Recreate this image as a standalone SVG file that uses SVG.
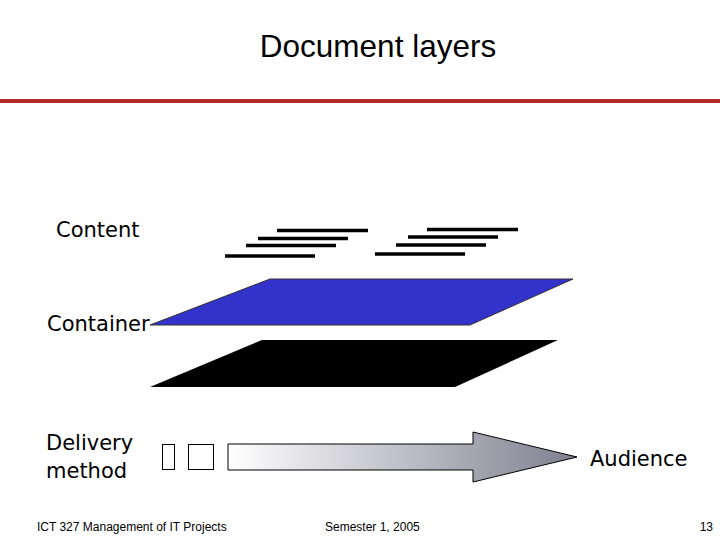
<svg xmlns="http://www.w3.org/2000/svg" width="720" height="540" viewBox="0 0 720 540">
<style>
text{font-family:"DejaVu Sans","Liberation Sans",sans-serif;fill:#000}
.l{font-size:21px}
.f{font-size:12px;font-family:"Liberation Sans",Arial,sans-serif}
.ln{stroke:#000;stroke-width:3.5}
</style>
<defs>
<linearGradient id="g" x1="0" x2="1" y1="0" y2="0">
<stop offset="0" stop-color="#ffffff"/><stop offset="1" stop-color="#7f7f90"/>
</linearGradient>
</defs>
<rect width="720" height="540" fill="#fff"/>
<text x="378" y="57" text-anchor="middle" font-size="31.5" style="font-family:'Liberation Sans',Arial,sans-serif">Document layers</text>
<rect x="0" y="99" width="720" height="4" fill="#b02a2a"/>
<g id="content">
<text class="l" x="56" y="237">Content</text>
<g class="ln">
<line x1="277" y1="230.5" x2="368" y2="230.5"/><line x1="258" y1="238.5" x2="348" y2="238.5"/>
<line x1="246" y1="245.5" x2="336" y2="245.5"/><line x1="225" y1="256" x2="315" y2="256"/>
<line x1="427" y1="229.5" x2="518" y2="229.5"/><line x1="408" y1="237" x2="498" y2="237"/>
<line x1="396" y1="245" x2="486" y2="245"/><line x1="375" y1="254" x2="465" y2="254"/>
</g>
</g>
<g id="container">
<text class="l" x="47" y="331">Container</text>
<polygon points="150,325 270,279 573,279 470,325" fill="#3333cc" stroke="#333" stroke-width="1"/>
<polygon points="150,387 262,340 558,340 455,387" fill="#000"/>
</g>
<g id="delivery">
<text class="l" x="46" y="450">Delivery</text>
<text class="l" x="46" y="478">method</text>
<rect x="162.5" y="444.5" width="12" height="25" fill="#fff" stroke="#000"/>
<rect x="188.5" y="444.5" width="25" height="25" fill="#fff" stroke="#000"/>
</g>
<g id="connectors">
<polygon points="228,444 473,444 473,432 577,457 473,482 473,470 228,470" fill="url(#g)" stroke="#000" stroke-width="1"/>
</g>
<g id="audience"><text class="l" x="590" y="466">Audience</text></g>
<text class="f" x="37" y="531">ICT 327 Management of IT Projects</text>
<text class="f" x="325" y="531">Semester 1, 2005</text>
<text class="f" x="713" y="531" text-anchor="end">13</text>
</svg>
